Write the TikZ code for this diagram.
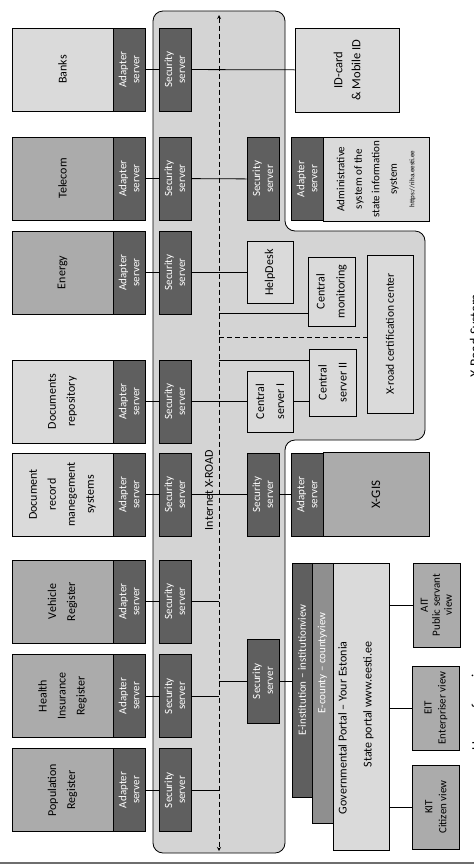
\documentclass[tikz,border=0pt]{standalone}
\usepackage{fontspec}
\setmainfont{Carlito}

\definecolor{lightbox}{HTML}{DADADA}
\definecolor{midbox}{HTML}{ABABAB}
\definecolor{darkbox}{HTML}{5F5F5F}
\definecolor{countybar}{HTML}{8F8F8F}
\definecolor{roadfill}{HTML}{D4D4D4}
\definecolor{rulegray}{HTML}{6E6E6E}

\begin{document}
\begin{tikzpicture}[x=1pt, y=-1pt, line width=0.8pt]

\useasboundingbox (0,0) rectangle (474,868);
\clip (0,0) rectangle (474,868);

%%% Styles

\tikzstyle{infosys}=[draw, rotate=90, fill=lightbox, minimum width=83pt, minimum height=101pt, inner sep=0pt, align=center, font=\fontsize{12}{19}\selectfont]
\tikzstyle{server}=[draw, rotate=90, fill=darkbox, text=white, minimum width=83pt, minimum height=32pt, inner sep=0pt, align=center, font=\fontsize{11}{13}\selectfont]
\tikzstyle{central}=[draw, rotate=90, fill=lightbox, inner sep=0pt, align=center, font=\fontsize{12}{20}\selectfont]
\tikzstyle{view}=[draw, rotate=90, fill=midbox, minimum width=84pt, minimum height=47pt, inner sep=0pt, align=center, font=\fontsize{11}{14}\selectfont]
\tikzstyle{caption}=[rotate=90, inner sep=0pt, font=\fontsize{14}{16}\selectfont]

% X-Road area

\draw [fill=roadfill, rounded corners=10pt]
(153,400) -- (153,11) -- (285,11) -- (285,231) -- (425,231) -- (425,440) -- (285,440) -- (285,853) -- (153,853) -- cycle;

% Internet line

\coordinate (busTop) at (219,15);
\coordinate (busBot) at (219,851);

\draw [<->, >=stealth, dash pattern=on 5pt off 3pt] (busTop) -- (busBot);

\node (inet) [rotate=90, font=\fontsize{12}{14}\selectfont] at (209,490) {Internet X-ROAD};


%%% Information systems

\node (banks) [infosys] at (62.5,69.5) {Banks};
\node (telecom) [infosys, fill=midbox] at (62.5,178.5) {Telecom};
\node (energy) [infosys, fill=midbox] at (62.5,272.5) {Energy};
\node (docrep) [infosys] at (62.5,401.5) {Documents\\repository};
\node (docrec) [infosys] at (62.5,494.5) {Document\\record\\manegement\\systems};
\node (vehicle) [infosys, fill=midbox] at (62.5,601.5) {Vehicle\\Register};
\node (health) [infosys, fill=midbox] at (62.5,696) {Health\\Insurance\\Register};
\node (population) [infosys, fill=midbox] at (62.5,790) {Population\\Register};

% Adapter servers

\node (adBanks) [server] at (129,69.5) {Adapter\\server};
\node (adTelecom) [server] at (129,178.5) {Adapter\\server};
\node (adEnergy) [server] at (129,272.5) {Adapter\\server};
\node (adDocrep) [server] at (129,401.5) {Adapter\\server};
\node (adDocrec) [server] at (129,494.5) {Adapter\\server};
\node (adVehicle) [server] at (129,601.5) {Adapter\\server};
\node (adHealth) [server] at (129,696) {Adapter\\server};
\node (adPopulation) [server] at (129,790) {Adapter\\server};

% Security servers

\node (secBanks) [server] at (175,69.5) {Security\\server};
\node (secTelecom) [server] at (175,178.5) {Security\\server};
\node (secEnergy) [server] at (175,272.5) {Security\\server};
\node (secDocrep) [server] at (175,401.5) {Security\\server};
\node (secDocrec) [server] at (175,494.5) {Security\\server};
\node (secVehicle) [server] at (175,601.5) {Security\\server};
\node (secHealth) [server] at (175,696) {Security\\server};
\node (secPopulation) [server] at (175,790) {Security\\server};

\draw (adBanks) -- (secBanks);
\draw (adTelecom) -- (secTelecom);
\draw (adEnergy) -- (secEnergy);
\draw (adDocrep) -- (secDocrep);
\draw (adDocrec) -- (secDocrec);
\draw (adVehicle) -- (secVehicle);
\draw (adHealth) -- (secHealth);
\draw (adPopulation) -- (secPopulation);

% onto the internet line

\draw (secVehicle) -- (secVehicle -| busTop);
\draw (secHealth) -- (secHealth -| busTop);
\draw (secPopulation) -- (secPopulation -| busTop);


%%% Right hand side

\node (idcard) [central, minimum width=84pt, minimum height=104pt, font=\fontsize{12.5}{18}\selectfont] at (347,70) {ID-card\\\& Mobile ID};

\draw (secBanks) -- (idcard);

\node (secRiha) [server] at (263,179) {Security\\server};
\node (adRiha) [server] at (307,179) {Adapter\\server};
\node (riha) [central, minimum width=84pt, minimum height=106pt, font=\fontsize{11}{17.5}\selectfont] at (376,179)
{Administrative\\system of the\\state information\\system\\{\fontsize{7}{8}\selectfont https://riha.eesti.ee}};

\draw (secTelecom) -- (secRiha);

\node (secGis) [server] at (263,494.5) {Security\\server};
\node (adGis) [server] at (307,494.5) {Adapter\\server};
\node (gis) [central, fill=midbox, minimum width=84pt, minimum height=106pt, font=\fontsize{13}{15}\selectfont] at (376,494.5) {X-GIS};

\draw (secDocrec) -- (secGis) -- (adGis);


%%% Certification center

\node (help) [central, minimum width=62pt, minimum height=46pt] at (270,272.5) {HelpDesk};
\node (mon) [central, minimum width=69pt, minimum height=47pt] at (331.5,291.5) {Central\\monitoring};
\node (cert) [central, minimum width=158pt, minimum height=46pt, font=\fontsize{11.5}{14}\selectfont] at (390,334) {X-road certification center};
\node (cs2) [central, minimum width=67pt, minimum height=47pt] at (332.5,382.5) {Central\\server II};
\node (cs1) [central, minimum width=61pt, minimum height=46pt] at (270,401.5) {Central\\server I};

\coordinate (monTap) at (219,313);
\coordinate (certTap) at (219,337);
\coordinate (csTap) at (219,360);

% north is the left side, the nodes are turned
\draw (secEnergy) -- (help);
\draw (monTap) -- (monTap -| mon.north);
\draw [dash pattern=on 5pt off 3pt] (certTap) -- (certTap -| cert.north);
\draw (csTap) -- (csTap -| cs2.north);
\draw (secDocrep) -- (cs1);
\draw (cs1) -- (cs1 -| cs2.north);


%%% Portal

\node (secPortal) [server, minimum width=84pt] at (263,681) {Security\\server};

\node (portal) [draw, rotate=90, fill=lightbox, minimum width=287pt, minimum height=56pt] at (361,706.5) {};
\node (ecounty) [draw, rotate=90, fill=countybar, minimum width=260pt, minimum height=21pt] at (322.5,693) {};
\node (einst) [draw, rotate=90, fill=darkbox, minimum width=234pt, minimum height=20pt] at (302,680) {};

\node (einstTxt) [rotate=90, text=white, font=\fontsize{11}{13}\selectfont] at (302,670) {E-institution – institutionview};
\node (ecountyTxt) [rotate=90, text=white, font=\fontsize{11}{13}\selectfont] at (322.5,663) {E-county – countyview};
\node (portalTxt) [rotate=90, anchor=east, align=right, inner sep=0pt, font=\fontsize{12}{25}\selectfont] at (356,641)
{Governmental Portal – Your Estonia\\State portal www.eesti.ee};

\draw (secPortal -| busTop) -- (secPortal) -- (secPortal -| einst.north);

% Views

\node (ait) [view, font=\fontsize{11}{12}\selectfont] at (436.5,605) {AIT\\Public servant\\view};
\node (eit) [view] at (436,708) {EIT\\Enterpriser view};
\node (kit) [view] at (436,807) {KIT\\Citizen view};

\draw (ait -| portal.south) -- (ait);
\draw (eit -| portal.south) -- (eit);
\draw (kit -| portal.south) -- (kit);


%%% Captions at the edge, mostly cut off

\node (capRoad) [caption] at (476,336) {X-Road System};
\node (capUsers) [caption] at (476.5,703) {Users of services};

% Rule

\draw [rulegray, line width=1.5pt] (0,863) -- (474,863);

\end{tikzpicture}
\end{document}
